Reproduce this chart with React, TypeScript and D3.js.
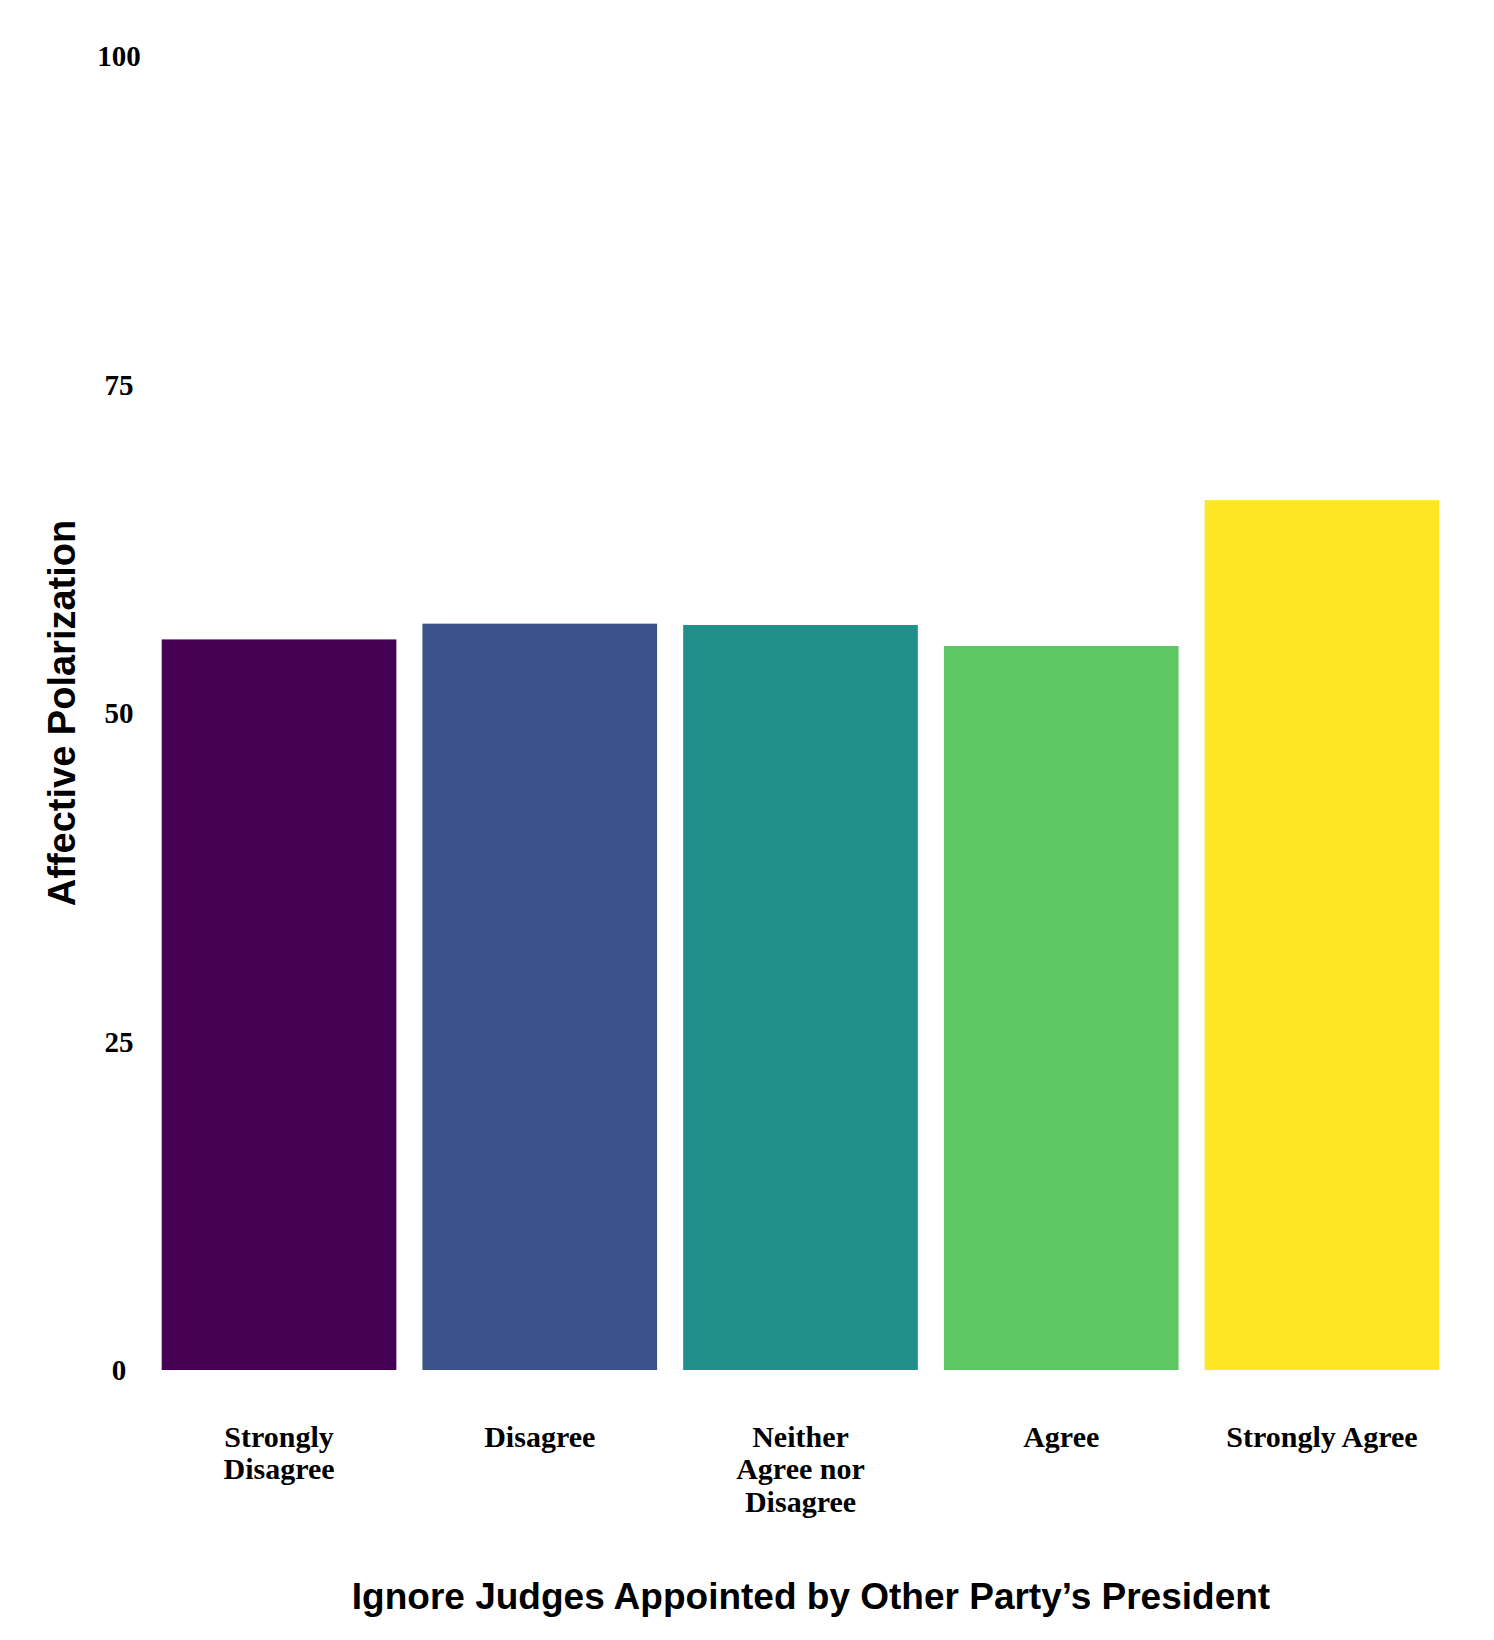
import React from "react";
import * as d3 from "d3";

const categories = [
  ["Strongly", "Disagree"],
  ["Disagree"],
  ["Neither", "Agree nor", "Disagree"],
  ["Agree"],
  ["Strongly Agree"],
];
const values = [55.6, 56.8, 56.7, 55.1, 66.2];
const barColors = ["#440154", "#3b528b", "#21908c", "#5dc863", "#fde725"];
const yTicks = [0, 25, 50, 75, 100];

const width = 1494;
const height = 1640;

const App: React.FC = () => {
  const keys = categories.map((c) => c.join(" "));
  const x = d3
    .scaleBand<string>()
    .domain(keys)
    .range([161.7, 1439.3])
    .paddingInner(0.1)
    .paddingOuter(0);
  const y = d3.scaleLinear().domain([0, 100]).range([1370, 56]);

  return (
    <svg
      width={width}
      height={height}
      style={{ position: "absolute", left: 0, top: 0, background: "#fff" }}
    >
      {values.map((v, i) => (
        <rect
          key={keys[i]}
          x={x(keys[i])}
          y={y(v)}
          width={x.bandwidth()}
          height={y(0) - y(v)}
          fill={barColors[i]}
        />
      ))}

      {yTicks.map((t) => (
        <text
          key={t}
          x={119}
          y={y(t)}
          dy="0.35em"
          textAnchor="middle"
          fontFamily="Liberation Serif"
          fontWeight="bold"
          fontSize={29}
        >
          {t}
        </text>
      ))}

      {categories.map((lines, i) => (
        <text
          key={keys[i]}
          x={(x(keys[i]) ?? 0) + x.bandwidth() / 2}
          y={1447}
          textAnchor="middle"
          fontFamily="Liberation Serif"
          fontWeight="bold"
          fontSize={30}
        >
          {lines.map((l, j) => (
            <tspan key={j} x={(x(keys[i]) ?? 0) + x.bandwidth() / 2} dy={j === 0 ? 0 : 32.4}>
              {l}
            </tspan>
          ))}
        </text>
      ))}

      <text
        transform={`translate(75, 713) rotate(-90)`}
        textAnchor="middle"
        fontFamily="Liberation Sans"
        fontWeight="bold"
        fontSize={38}
      >
        Affective Polarization
      </text>

      <text
        x={811}
        y={1609}
        textAnchor="middle"
        fontFamily="Liberation Sans"
        fontWeight="bold"
        fontSize={37}
      >
        Ignore Judges Appointed by Other Party’s President
      </text>
    </svg>
  );
};

export default App;
